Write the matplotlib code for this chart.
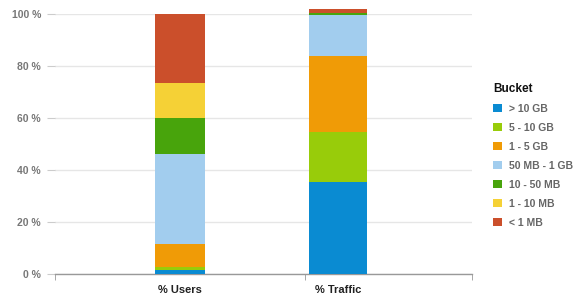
import matplotlib
matplotlib.use("Agg")
import matplotlib.pyplot as plt
import numpy as np

plt.rcParams['font.family'] = ['Liberation Sans', 'DejaVu Sans']

# data
categories = ['% Users', '% Traffic']
buckets = ['> 10 GB', '5 - 10 GB', '1 - 5 GB', '50 MB - 1 GB', '10 - 50 MB', '1 - 10 MB', '< 1 MB']
users = [1.5, 1.3, 8.6, 34.6, 14.1, 13.4, 26.5]
traffic = [35.4, 19.3, 29.3, 15.6, 0.8, 0.1, 1.3]
colors = ['#0a8bd2', '#98cc0a', '#f09b06', '#a2cdee', '#48a40c', '#f5d136', '#cb4f2b']

bar_pos = [0.30, 0.679]
bar_width = [0.12, 0.139]

fig = plt.figure(figsize=(5.84, 2.96), dpi=100)
ax = fig.add_axes([55 / 584, 22 / 296, 417 / 584, 260 / 296])

values = np.array([users, traffic])
bottoms = np.zeros(2)
handles = []
for i, name in enumerate(buckets):
    h = ax.bar(bar_pos, values[:, i], width=bar_width, bottom=bottoms,
               color=colors[i], label=name, clip_on=False, zorder=3, linewidth=0)
    handles.append(h)
    bottoms += values[:, i]

ax.set_xlim(0, 1)
ax.set_ylim(0, 100)
ax.set_yticks([0, 20, 40, 60, 80, 100])
ax.set_yticklabels([f'{v} %' for v in [0, 20, 40, 60, 80, 100]])
ax.yaxis.grid(True, color='#e6e6e6', linewidth=1, zorder=0)
ax.set_axisbelow(True)

# category labels under the bars, tick marks at band edges
ax.set_xticks(bar_pos)
ax.set_xticklabels(categories, fontsize=8, fontweight='bold', color='#222222')
ax.tick_params(axis='x', length=0, pad=8)
ax.set_xticks([0, 0.6, 1], minor=True)
ax.tick_params(axis='x', which='minor', length=4, color='#999999', direction='out')
ax.tick_params(axis='y', length=6, color='#cccccc', labelsize=7.5, labelcolor='#777777', pad=4)
for lbl in ax.get_yticklabels():
    lbl.set_fontweight('bold')

for s in ['top', 'right', 'left']:
    ax.spines[s].set_visible(False)
ax.spines['bottom'].set_color('#999999')
ax.spines['bottom'].set_linewidth(1)

leg = fig.legend(handles=handles, labels=buckets, loc='upper left',
                 bbox_to_anchor=(489 / 584, 1 - 79 / 296), frameon=False,
                 title='Bucket', handlelength=0.8, handleheight=0.8,
                 handletextpad=0.7, labelspacing=0.87, borderaxespad=0,
                 prop={'size': 7.5, 'weight': 'bold'})
leg._legend_box.align = 'left'
leg._legend_box.sep = 6
leg.get_title().set_fontweight('bold')
leg.get_title().set_fontsize(8.5)
leg.get_title().set_color('#111111')
for t in leg.get_texts():
    t.set_color('#666666')

fig.savefig('out.png', dpi=100, facecolor='white')
